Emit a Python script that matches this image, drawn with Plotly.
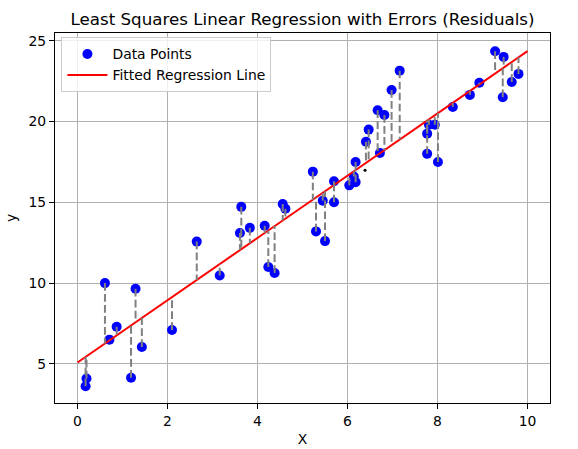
import numpy as np
import plotly.graph_objects as go

# values
x_vals = [0.18, 0.20, 0.61, 0.71, 0.87, 1.19, 1.29, 1.43, 2.10, 2.65,
          3.16, 3.61, 3.64, 3.83, 4.16, 4.24, 4.38, 4.56, 4.62, 5.23,
          5.30, 5.45, 5.50, 5.70, 5.70, 6.04, 6.14, 6.18, 6.18, 6.41,
          6.47, 6.67, 6.72, 6.82, 6.98, 7.16, 7.77, 7.77, 7.81, 7.94,
          8.01, 8.34, 8.72, 8.93, 9.28, 9.45, 9.47, 9.65, 9.80]
y_vals = [3.62, 4.10, 10.0, 6.50, 7.30, 4.14, 9.65, 6.05, 7.10, 12.57,
          10.47, 13.10, 14.72, 13.42, 13.55, 11.0, 10.63, 14.9, 14.6, 16.9,
          13.2, 15.1, 12.6, 15.0, 16.3, 16.05, 16.6, 16.25, 17.5, 18.75,
          19.5, 20.7, 18.05, 20.4, 21.95, 23.15, 19.25, 18.0, 19.8, 19.8,
          17.5, 20.9, 21.65, 22.4, 24.35, 21.5, 24.0, 22.45, 22.95]
stray_x = [6.39]
stray_y = [16.98]

x = np.array(x_vals)
y = np.array(y_vals)
slope, intercept = np.polyfit(x, y, 1)
line_x = np.array([0, 10])
line_y = slope * line_x + intercept
y_hat = slope * x + intercept

res_x, res_y = [], []
for xi, yi, yh in zip(x, y, y_hat):
    res_x += [xi, xi, None]
    res_y += [yi, yh, None]

font = "DejaVu Sans"
fig = go.Figure()
fig.add_trace(go.Scatter(x=x, y=y, mode="markers", name="Data Points",
                         marker=dict(color="blue", size=10, line=dict(width=0))))
fig.add_trace(go.Scatter(x=line_x, y=line_y, mode="lines", name="Fitted Regression Line",
                         line=dict(color="red", width=2)))
fig.add_trace(go.Scatter(x=res_x, y=res_y, mode="lines", showlegend=False,
                         line=dict(color="gray", width=2, dash="7.7px,3.3px")))
fig.add_trace(go.Scatter(x=stray_x, y=stray_y, mode="markers", showlegend=False,
                         marker=dict(color="black", size=3)))

axis = dict(showline=True, mirror=True, linecolor="black", linewidth=1.1,
            showgrid=True, gridcolor="#b0b0b0", gridwidth=1.1, zeroline=False,
            ticks="outside", ticklen=5, tickcolor="black", tickwidth=1.1, automargin=False,
            tickfont=dict(size=13.9, color="black"))
fig.update_xaxes(axis, range=[-0.5, 10.5], tickvals=[0, 2, 4, 6, 8, 10],
                 title=dict(text="X", font=dict(size=13.9, color="black"), standoff=6))
fig.update_yaxes(axis, range=[2.58, 25.48], tickvals=[5, 10, 15, 20, 25],
                 title=dict(text="y", font=dict(size=13.9, color="black"), standoff=8))
fig.update_layout(
    width=578, height=449,
    margin=dict(l=55, r=28, t=33, b=46, autoexpand=False),
    paper_bgcolor="white", plot_bgcolor="white",
    font=dict(family=font, color="black"),
    title=dict(text="Least Squares Linear Regression with Errors (Residuals)",
               x=0.5, xref="paper", xanchor="center", y=0.957, yanchor="middle",
               font=dict(size=16.7, color="black")),
    legend=dict(x=0.013, y=0.988, xanchor="left", yanchor="top",
                bordercolor="#cccccc", borderwidth=1, bgcolor="rgba(255,255,255,0.8)",
                font=dict(size=13.9), tracegroupgap=0, itemwidth=40),
    showlegend=True,
)
fig.write_html("out.html", config={"displayModeBar": False},
               post_script="document.body.style.margin='0';document.body.style.overflow='hidden';")
